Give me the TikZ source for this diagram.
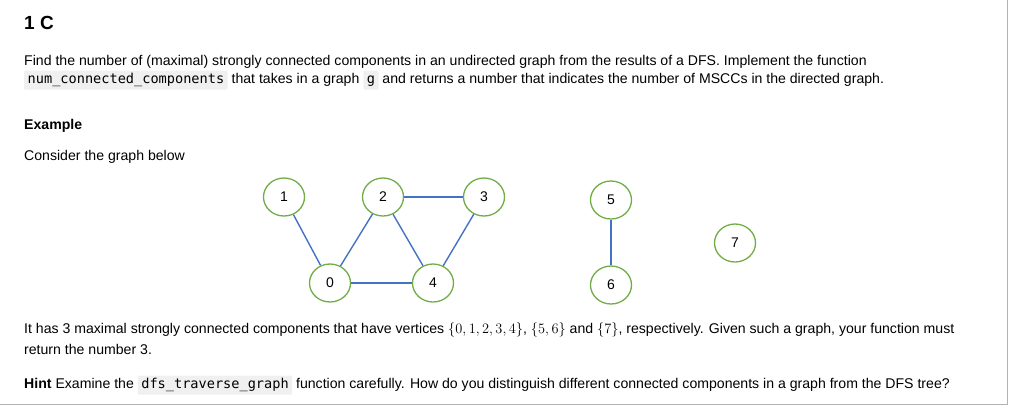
\documentclass[tikz,border=0pt]{standalone}
\usepackage{fontspec}
\usetikzlibrary{shapes.geometric}
\setmainfont{Liberation Sans}
\setmonofont{DejaVu Sans Mono}
\definecolor{edgeblue}{RGB}{68,114,196}
\definecolor{nodegreen}{RGB}{112,173,71}
\definecolor{codebg}{RGB}{240,240,240}
\newcommand{\cde}[1]{\tikz[baseline=(c.base)]\node[fill=codebg,inner xsep=3.5pt,inner ysep=2pt,rounded corners=1pt](c){\fontsize{13.6}{15}\ttfamily\strut #1};}
\begin{document}
\begin{tikzpicture}[x=1pt,y=-1pt,
  vtx/.style={ellipse,draw=nodegreen,line width=1.3pt,minimum width=41pt,minimum height=38pt,inner sep=0pt,font=\fontsize{14}{16}\selectfont},
  edg/.style={edgeblue,line width=1.4pt},
  txt/.style={anchor=base west,inner sep=0pt,font=\fontsize{14.1}{16}\selectfont}]
\useasboundingbox (0,0) rectangle (1011,408);
\draw[gray!60,line width=0.8pt] (1007,0) -- (1007,404) -- (0,404);
\node[txt,font=\bfseries\fontsize{19}{22}\selectfont] (title) at (24,29) {1 C};
\node[txt] (l1) at (24,65) {Find the number of (maximal) strongly connected components in an undirected graph from the results of a DFS. Implement the function};
\node[txt] (l2) at (24,83) {\cde{num\_connected\_components} that takes in a graph \cde{g} and returns a number that indicates the number of MSCCs in the directed graph.};
\node[txt,font=\bfseries\fontsize{14.1}{16}\selectfont] (ex) at (24,129) {Example};
\node[txt] (cons) at (24,160) {Consider the graph below};
\node[vtx] (n1) at (284,197) {1};
\node[vtx] (n2) at (383,197) {2};
\node[vtx] (n3) at (484,197) {3};
\node[vtx] (n5) at (611,200) {5};
\node[vtx] (n7) at (735,243) {7};
\node[vtx] (n0) at (330,283) {0};
\node[vtx] (n4) at (433,283) {4};
\node[vtx] (n6) at (611,285) {6};
\draw[edg] (n1) -- (n0);
\draw[edg] (n0) -- (n2);
\draw[edg] (n0) -- (n4);
\draw[edg] (n2) -- (n4);
\draw[edg] (n2) -- (n3);
\draw[edg] (n3) -- (n4);
\draw[edg] (n5) -- (n6);
\node[txt] (res1) at (24,333) {It has 3 maximal strongly connected components that have vertices $\{0,1,2,3,4\}$, $\{5,6\}$ and $\{7\}$, respectively. Given such a graph, your function must};
\node[txt] (res2) at (24,354) {return the number 3.};
\node[txt] (hint) at (24,388) {\textbf{Hint} Examine the \cde{dfs\_traverse\_graph} function carefully. How do you distinguish different connected components in a graph from the DFS tree?};
\end{tikzpicture}
\end{document}
